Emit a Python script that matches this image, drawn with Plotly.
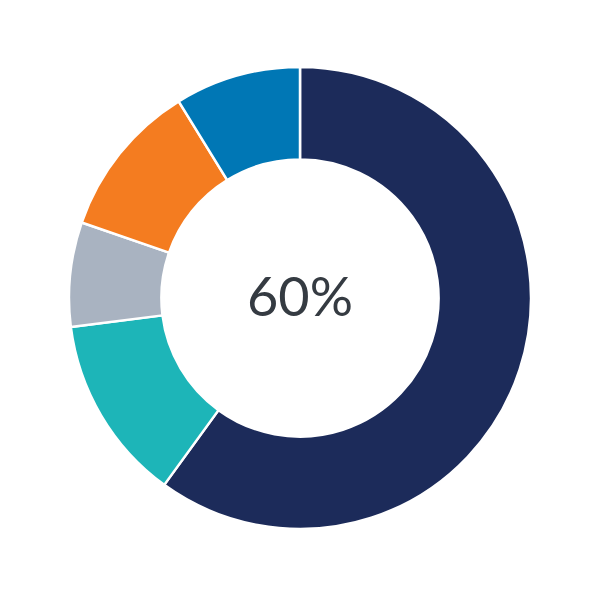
import plotly.graph_objects as go

# slice shares, clockwise from 12 o'clock
labels = ["Navy", "Teal", "Gray", "Orange", "Blue"]
values = [60, 13, 7.3, 10.9, 8.8]
colors = ["#1c2b5a", "#1db5b8", "#a9b3c1", "#f47c20", "#0077b5"]
center_label = "60%"

fig = go.Figure(
    go.Pie(
        labels=labels,
        values=values,
        hole=0.6,
        sort=False,
        direction="clockwise",
        rotation=0,
        marker=dict(colors=colors, line=dict(color="white", width=2.5)),
        textinfo="none",
        hoverinfo="label+percent",
    )
)

fig.add_annotation(
    text=center_label,
    x=0.5, y=0.5, xref="paper", yref="paper",
    showarrow=False,
    yshift=3,
    font=dict(family="Lato", size=54, color="#353b42"),
)

# the page body adds 8px, so the margins are offset to keep the ring centred
fig.update_layout(
    width=600,
    height=599,
    margin=dict(l=61, r=77, t=59, b=78),
    showlegend=False,
    paper_bgcolor="white",
)

fig.write_html("out.html")
